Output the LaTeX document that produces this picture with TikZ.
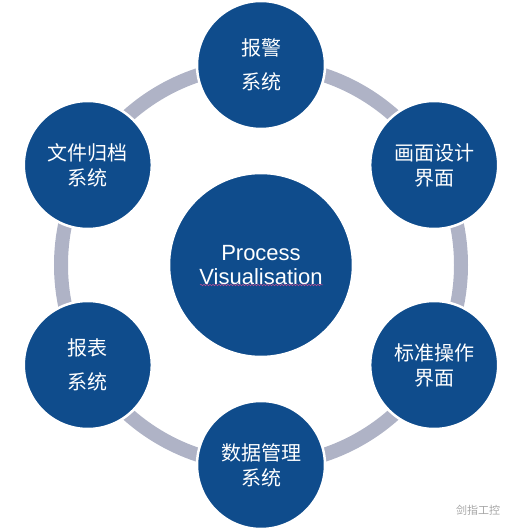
\documentclass[tikz,border=0pt]{standalone}
\usepackage{fontspec}
\setmainfont{Liberation Sans}
\newfontfamily\cjk{Noto Sans CJK SC}
\usetikzlibrary{positioning,decorations.pathmorphing}
\definecolor{ringgray}{HTML}{AFB3C6}
\definecolor{discblue}{HTML}{0F4C8C}
\tikzstyle{outer} = [circle, minimum size=128pt, inner sep=0pt, fill=discblue, draw=white, line width=2.5pt, text=white, align=center, font=\cjk\fontsize{20}{25}\selectfont]
\tikzstyle{wide} = [font=\cjk\fontsize{20}{34}\selectfont]
\tikzstyle{hub} = [circle, minimum size=184pt, inner sep=0pt, fill=discblue, draw=white, line width=2.5pt, text=white, align=center, font=\fontsize{22}{24}\selectfont]

\begin{document}
\begin{tikzpicture}[x=1pt, y=1pt]
\useasboundingbox (-261,-267) rectangle (258,265);

% ring behind the discs
\draw [ringgray, line width=14pt] (0,0) circle (200);

\node (hub) [hub] at (0,0) {Process\\Visualisation};
\draw [decorate, decoration={snake, amplitude=0.8pt, segment length=3pt}, red!60!blue!70, line width=0.5pt]
  ([xshift=-61pt, yshift=-20pt]hub.center) -- ([xshift=62pt, yshift=-20pt]hub.center);

\node (alarm)  [outer, wide] at (90:200)   {报警\\系统};
\node (screen) [outer]       at (30:200)   {画面设计\\界面};
\node (oper)   [outer]       at (-30:200)  {标准操作\\界面};
\node (data)   [outer]       at (-90:200)  {数据管理\\系统};
\node (report) [outer, wide] at (-150:200) {报表\\系统};
\node (file)   [outer]       at (150:200)  {文件归档\\系统};

% watermark
\node (mark) [font=\cjk\fontsize{11}{13}\selectfont, text=gray!70] at (217,-245) {剑指工控};
\end{tikzpicture}
\end{document}
